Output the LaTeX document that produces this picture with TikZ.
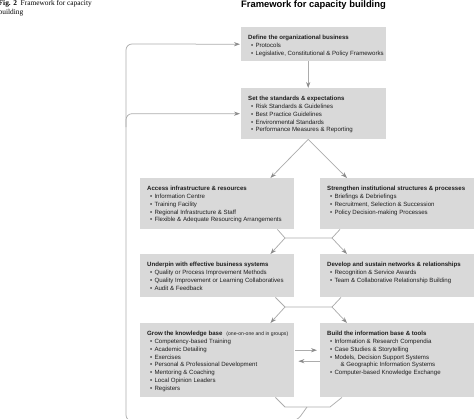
\documentclass[tikz,border=0pt]{standalone}
\usepackage{fontspec}
\setmainfont{Liberation Sans}
\newfontfamily\capfont{Liberation Serif}
\usetikzlibrary{arrows.meta}
\definecolor{boxgray}{RGB}{217,217,217}
\definecolor{linegray}{RGB}{172,172,172}
\definecolor{tipgray}{RGB}{140,140,140}
\definecolor{txtcol}{RGB}{30,30,30}
\newcommand{\itm}[1]{\hspace*{3pt}\textbullet\hspace{2.2pt}#1}
\newcommand{\hd}[1]{\textbf{#1}\\[0.9pt]}
\begin{document}
\begin{tikzpicture}[x=1pt,y=-1pt,
  box/.style={fill=boxgray, draw=none, anchor=north west, inner sep=0pt},
  txt/.style={anchor=north west, inner sep=0pt, align=left, text=txtcol,
    font=\fontsize{6.1}{7.7}\selectfont},
  conn/.style={draw=linegray, line width=0.75pt},
  arr/.style={conn, -{Stealth[length=6pt,width=4.2pt,color=tipgray,fill=tipgray]}},
]
\useasboundingbox (0,0) rectangle (474,418);
\clip (0,0) rectangle (474,418);

% caption and title
\node[anchor=north west, inner sep=0pt, align=left,
  font=\capfont\fontsize{7.4}{8.8}\selectfont] (cap) at (-1.5,0.3)
  {\textbf{Fig. 2}\enspace Framework for capacity\\building};
\node[inner sep=0pt, font=\bfseries\fontsize{9.4}{11}\selectfont] (title) at (313.5,5)
  {Framework for capacity building};

% boxes
\node[box, minimum width=145, minimum height=34] (b1) at (241,27) {};
\node[box, minimum width=145, minimum height=51] (b2) at (241,88) {};
\node[box, minimum width=154, minimum height=51] (b3l) at (140,178) {};
\node[box, minimum width=154, minimum height=51] (b3r) at (320,178) {};
\node[box, minimum width=154, minimum height=43] (b4l) at (140,254) {};
\node[box, minimum width=154, minimum height=43] (b4r) at (320,254) {};
\node[box, minimum width=154, minimum height=74] (b5l) at (140,323) {};
\node[box, minimum width=154, minimum height=74] (b5r) at (320,323) {};

% texts
\node[txt] (t1) at (248,34.6) {\hd{Define the organizational business}
  \itm{Protocols}\\
  \itm{Legislative, Constitutional \& Policy Frameworks}};
\node[txt] (t2) at (248,95.6) {\hd{Set the standards \& expectations}
  \itm{Risk Standards \& Guidelines}\\
  \itm{Best Practice Guidelines}\\
  \itm{Environmental Standards}\\
  \itm{Performance Measures \& Reporting}};
\node[txt] (t3l) at (147,185.6) {\hd{Access infrastructure \& resources}
  \itm{Information Centre}\\
  \itm{Training Facility}\\
  \itm{Regional Infrastructure \& Staff}\\
  \itm{Flexible \& Adequate Resourcing Arrangements}};
\node[txt] (t3r) at (327,185.6) {\hd{Strengthen institutional structures \& processes}
  \itm{Briefings \& Debriefings}\\
  \itm{Recruitment, Selection \& Succession}\\
  \itm{Policy Decision-making Processes}};
\node[txt] (t4l) at (147,261.6) {\hd{Underpin with effective business systems}
  \itm{Quality or Process Improvement Methods}\\
  \itm{Quality Improvement or Learning Collaboratives}\\
  \itm{Audit \& Feedback}};
\node[txt] (t4r) at (327,261.6) {\hd{Develop and sustain networks \& relationships}
  \itm{Recognition \& Service Awards}\\
  \itm{Team \& Collaborative Relationship Building}};
\node[txt] (t5l) at (147,330.6) {\textbf{Grow the knowledge base}\hspace{4pt}{\fontsize{5.1}{7.7}\selectfont(one-on-one and in groups)}\\[0.9pt]
  \itm{Competency-based Training}\\
  \itm{Academic Detailing}\\
  \itm{Exercises}\\
  \itm{Personal \& Professional Development}\\
  \itm{Mentoring \& Coaching}\\
  \itm{Local Opinion Leaders}\\
  \itm{Registers}};
\node[txt] (t5r) at (327,330.6) {\hd{Build the information base \& tools}
  \itm{Information \& Research Compendia}\\
  \itm{Case Studies \& Storytelling}\\
  \itm{Models, Decision Support Systems}\\
  \hspace*{13.5pt}\& Geographic Information Systems\\
  \itm{Computer-based Knowledge Exchange}};

% junction coordinates
\coordinate (j1) at (285,238);
\coordinate (j2) at (332,238);
\coordinate (j3) at (285,307);
\coordinate (j4) at (332,307);
\coordinate (j5) at (285,407);
\coordinate (j6) at (330,407);
\coordinate (jm) at (307,407);
\coordinate (lbr) at (297,421);
\coordinate (lbl) at (126,421);
\coordinate (ltop) at (126,44);
\coordinate (lmid) at (126,127);

% connectors
\draw[arr] ([xshift=-5.5pt]b1.south) -- ([xshift=-5.5pt]b2.north);
\draw[arr] ([xshift=-5.5pt]b2.south) -- ([xshift=-24pt]b3l.north east);
\draw[arr] ([xshift=-5.5pt]b2.south) -- ([xshift=27pt]b3r.north west);

\draw[conn] ([xshift=-17pt]b3l.south east) -- (j1) -- (j2) -- ([xshift=20pt]b3r.south west);
\draw[arr] (j1) -- ([xshift=-24pt]b4l.north east);
\draw[arr] (j2) -- ([xshift=27pt]b4r.north west);

\draw[conn] ([xshift=-19pt]b4l.south east) -- (j3) -- (j4) -- ([xshift=21pt]b4r.south west);
\draw[arr] (j3) -- ([xshift=-24pt]b5l.north east);
\draw[arr] (j4) -- ([xshift=27pt]b5r.north west);

\draw[arr] ([xshift=1pt,yshift=10pt]b5l.east) -- ([xshift=-3pt,yshift=10pt]b5r.west);
\draw[arr] ([yshift=-1pt]b5r.west) -- ([xshift=4pt,yshift=-1pt]b5l.east);

\draw[conn] ([xshift=-19pt]b5l.south east) -- (j5) -- (j6) -- ([xshift=22pt]b5r.south west);
\draw[arr, rounded corners=6pt] (jm) -- (lbr) -- (lbl) -- (ltop) -- ([xshift=-1pt]b1.west);
\draw[arr, rounded corners=6pt] (lmid) -- (lmid |- b2.west) -- ([xshift=-1pt]b2.west);
\end{tikzpicture}
\end{document}
